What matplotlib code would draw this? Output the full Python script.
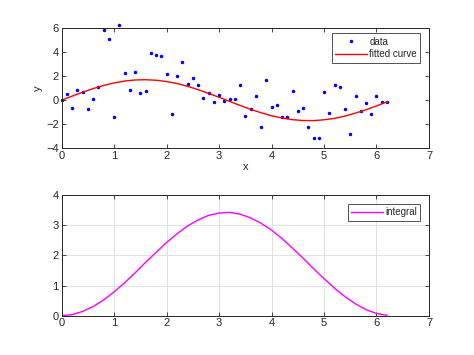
import numpy as np
import matplotlib.pyplot as plt

plt.rcParams['font.family'] = ['Liberation Sans', 'DejaVu Sans']

# noisy samples
x_data = np.round(np.arange(0, 63) * 0.1, 1)
y_data = [0.0, 0.48, -0.68, 0.82, 0.65, -0.76, 0.11, 1.10, 5.86, 5.15,
          -1.41, 6.31, 2.31, 0.87, 2.39, 0.62, 0.79, 3.97, 3.75, 3.66,
          2.17, -1.18, 2.00, 3.21, 1.35, 1.89, 1.30, 0.20, 0.56, -0.11,
          0.42, -0.03, 0.08, 0.14, 1.30, -1.32, -0.70, 0.31, -2.25, 1.69,
          -0.56, -0.39, -1.38, -1.44, 0.73, -0.90, -0.62, -2.23, -3.13, -3.13,
          0.70, -1.04, 1.30, 1.07, -0.76, -2.82, 0.37, -0.93, -0.23, -1.15,
          0.34, -0.17, -0.14]

# fitted curve and its integral, read at 0.2 steps
x_fit = np.round(np.arange(0, 32) * 0.2, 1)
y_fit = [0.00, 0.34, 0.67, 0.97, 1.23, 1.44, 1.60, 1.69, 1.71, 1.67,
         1.56, 1.39, 1.16, 0.88, 0.57, 0.24, -0.10, -0.44, -0.76, -1.05,
         -1.30, -1.49, -1.63, -1.70, -1.71, -1.64, -1.52, -1.33, -1.08, -0.80,
         -0.48, -0.14]
y_int = [0.00, 0.03, 0.14, 0.30, 0.52, 0.79, 1.09, 1.42, 1.77, 2.10,
         2.43, 2.72, 2.98, 3.18, 3.33, 3.41, 3.43, 3.37, 3.25, 3.07,
         2.84, 2.56, 2.24, 1.91, 1.56, 1.23, 0.91, 0.63, 0.39, 0.20,
         0.07, 0.01]

dark = '#262626'
fig = plt.figure(figsize=(4.74, 3.55), dpi=100)
ax1 = fig.add_axes([0.13, 0.583, 0.775, 0.339])
ax2 = fig.add_axes([0.13, 0.111, 0.775, 0.339])

ax1.plot(x_data, y_data, '.', color='#0000ff', markersize=3, label='data', clip_on=False)
ax1.plot(x_fit, y_fit, color='#ff0000', linewidth=1.0, label='fitted curve')
ax1.set_xlim(0, 7)
ax1.set_ylim(-4, 6.06)
ax1.set_yticks([-4, -2, 0, 2, 4, 6])
ax1.set_xlabel('x', fontsize=8, color=dark, labelpad=1)
ax1.set_ylabel('y', fontsize=8, color=dark, labelpad=2)

ax2.plot(x_fit, y_int, color='#ff00ff', linewidth=1.0, label='integral')
ax2.set_xlim(0, 7)
ax2.set_ylim(0, 4)
ax2.grid(True, color='#dcdcdc', linewidth=0.6)
ax2.set_axisbelow(True)

for ax, top in ((ax1, 0.953), (ax2, 0.928)):
    ax.set_xticks(range(8))
    ax.tick_params(direction='in', length=3, width=0.6, top=True, right=True,
                   labelsize=8, colors=dark, pad=2)
    for s in ax.spines.values():
        s.set_color(dark)
        s.set_linewidth(0.7)
    leg = ax.legend(loc='upper right', bbox_to_anchor=(0.976, top), fontsize=7,
                    frameon=True, fancybox=False, borderpad=0.35, handlelength=3.3,
                    handletextpad=0.2, labelspacing=0.25, borderaxespad=0)
    leg.get_frame().set_edgecolor(dark)
    leg.get_frame().set_linewidth(0.7)
    for t in leg.get_texts():
        t.set_color(dark)

fig.savefig('out.png', dpi=100)
